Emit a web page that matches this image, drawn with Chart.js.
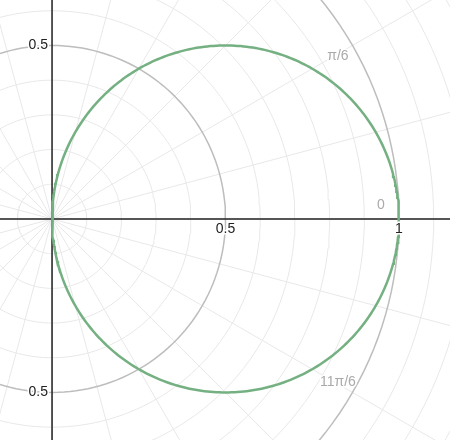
<!DOCTYPE html>
<html><head><meta charset="utf-8">
<script src="https://cdn.jsdelivr.net/npm/chart.js@4"></script>
<style>html,body{margin:0;padding:0;background:#fff}</style>
</head><body>
<canvas id="c" width="450" height="440"></canvas>
<script>
// Polar curve r = a*cos(theta)
const curveCoef = 1;
const gridRadii = [0.1,0.2,0.3,0.4,0.5,0.6,0.7,0.8,0.9,1.0,1.1,1.2,1.3,1.4];
const majorRadii = [0.5,1.0];
const spokeCount = 24;
const xTickLabels = [{v:0.5,t:'0.5'},{v:1,t:'1'}];
const yTickLabels = [{v:0.5,t:'0.5'},{v:-0.5,t:'0.5'}];
const angleLabelX = [0.824,0.948,0.824];
const angleLabelY = [0.47,0.04,-0.47];
const angleLabelText = ['π/6','0','11π/6'];

function circlePts(r){const p=[];for(let i=0;i<=180;i++){const t=i/180*2*Math.PI;p.push({x:r*Math.cos(t),y:r*Math.sin(t)});}return p;}
const ds=[];
gridRadii.forEach(r=>{const maj=majorRadii.some(m=>Math.abs(m-r)<1e-9);
 ds.push({data:circlePts(r),showLine:true,pointRadius:0,borderColor:maj?'#bdbdbd':'#e8e8e8',borderWidth:maj?1.5:1,order:maj?5:9});});
for(let k=0;k<spokeCount;k++){const t=k/spokeCount*2*Math.PI;
 ds.push({data:[{x:0,y:0},{x:1.6*Math.cos(t),y:1.6*Math.sin(t)}],showLine:true,pointRadius:0,borderColor:'#e8e8e8',borderWidth:1,order:9});}
ds.push({data:[{x:-1,y:0},{x:2,y:0}],showLine:true,pointRadius:0,borderColor:'#222',borderWidth:1.5,order:2});
ds.push({data:[{x:0,y:-1},{x:0,y:1}],showLine:true,pointRadius:0,borderColor:'#222',borderWidth:1.5,order:2});
const curve=[];for(let i=0;i<=360;i++){const t=i/360*Math.PI;const r=curveCoef*Math.cos(t);curve.push({x:r*Math.cos(t),y:r*Math.sin(t)});}
ds.push({data:curve,showLine:true,pointRadius:0,borderColor:'#74b081',borderWidth:2.5,order:0});

const labels={id:'labels',afterDatasetsDraw(ch){const c=ch.ctx,X=ch.scales.x,Y=ch.scales.y;
 c.save();c.font='14px Arial, "Liberation Sans"';
 const halo=(t,x,y)=>{c.lineWidth=3;c.strokeStyle='#fff';c.strokeText(t,x,y);c.fillText(t,x,y);};
 c.fillStyle='#222';c.textAlign='center';c.textBaseline='top';
 xTickLabels.forEach(l=>halo(l.t,X.getPixelForValue(l.v),Y.getPixelForValue(0)+3));
 c.textAlign='right';c.textBaseline='middle';
 yTickLabels.forEach(l=>halo(l.t,X.getPixelForValue(0)-4,Y.getPixelForValue(l.v)));
 c.fillStyle='#aaa';c.textAlign='center';c.textBaseline='middle';
 angleLabelText.forEach((t,i)=>halo(t,X.getPixelForValue(angleLabelX[i]),Y.getPixelForValue(angleLabelY[i])));
 c.restore();}};

new Chart(document.getElementById('c'),{type:'scatter',data:{datasets:ds},
 options:{responsive:false,animation:false,layout:{padding:0},
 plugins:{legend:{display:false},tooltip:{enabled:false}},
 scales:{x:{type:'linear',min:-0.15,max:1.147,display:false},y:{type:'linear',min:-0.637,max:0.631,display:false}}},
 plugins:[labels]});
</script>
</body></html>
